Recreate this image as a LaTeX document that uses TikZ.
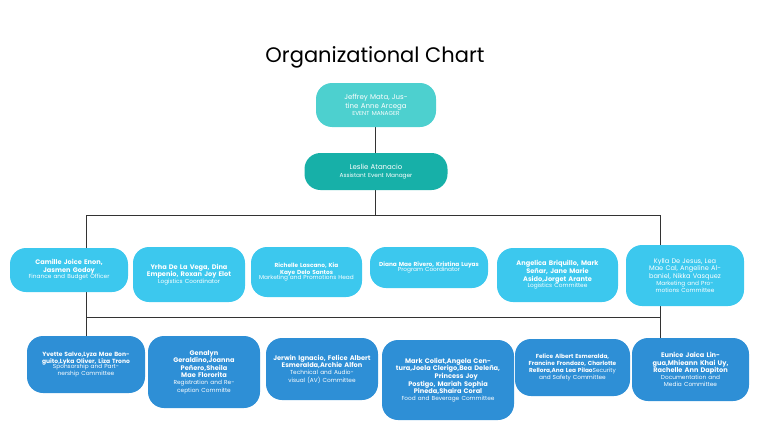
\documentclass[tikz,border=0pt]{standalone}
\usepackage{fontspec}
\setmainfont{Poppins}
\definecolor{topc}{HTML}{4DD0CF}
\definecolor{secc}{HTML}{17B0A8}
\definecolor{rowa}{HTML}{3CC8EE}
\definecolor{rowb}{HTML}{2E8FD6}
\tikzset{
 box/.style={rounded corners=16pt,text=white,align=center,inner sep=1pt,font=\fontsize{6.6}{7.6}\selectfont\bfseries},
 ra/.style={box,fill=rowa},
 rb/.style={box,fill=rowb},
 ln/.style={draw=black!80,line width=0.8pt}
}
\newcommand{\rl}[1]{\\[-1pt]{\mdseries\fontsize{5.8}{6.8}\selectfont #1}}
\newcommand{\bx}[7]{\node[#1,minimum width=#4pt,minimum height=#5pt,text width=#6pt] (#2) at (#3) {#7};}
\begin{document}
\begin{tikzpicture}[x=1pt,y=-1pt]
\useasboundingbox (0,0) rectangle (768,431);
\node[font=\fontsize{21}{24}\selectfont] (title) at (375,57) {Organizational Chart};
\coordinate (h1) at (375,215);
\coordinate (hl) at (86,215);
\coordinate (hr) at (660,215);
\coordinate (ml) at (86,317);
\coordinate (mr) at (660,317);
\coordinate (bl) at (86,336);
\coordinate (br) at (660,338);
\draw[ln] (375,105) -- (h1);
\draw[ln] (hl) -- (hr);
\draw[ln] (hl) -- (ml) -- (mr) -- (hr);
\draw[ln] (ml) -- (bl);
\draw[ln] (mr) -- (br);
\bx{box,fill=topc,font=\fontsize{7}{8.5}\selectfont}{top}{376,105}{120}{44}{105}{Jeffrey Mata, Justine Anne Arcega\rl{EVENT MANAGER}}
\bx{box,fill=secc,font=\fontsize{7}{8.5}\selectfont}{sec}{376,171.5}{143}{37}{120}{Leslie Atanacio\rl{Assistant Event Manager}}
\bx{ra}{a1}{69,270}{118}{44}{108}{Camille Joice Enon,\\Jasmen Godoy\rl{Finance and Budget Officer}}
\bx{ra}{a2}{189,274.5}{112}{55}{100}{Yrha De La Vega, Dina Empenio, Roxan Joy Elot\rl{Logistics Coordinator}}
\bx{ra,font=\fontsize{5.8}{6.8}\selectfont\bfseries}{a3}{306.5,272}{111}{50}{100}{Richelle Lascano, Kia Kaye Delo Santos\rl{Marketing and Promotions Head}}
\bx{ra,font=\fontsize{5.8}{6.8}\selectfont\bfseries}{a4}{429,267.5}{118}{41}{100}{Diana Mae Rivero, Kristina Luyas\rl{Program Coordinator}}
\bx{ra}{a5}{557.5,275}{121}{54}{100}{Angelica Briquillo, Mark Señar, Jane Marie Asido,Jorget Arante\rl{Logistics Committee}}
\bx{ra,font=\fontsize{6.6}{7.6}\selectfont}{a6}{685,275.5}{118}{61}{100}{Kylla De Jesus, Lea Mae Cal, Angeline Albaniel, Nikka Vasquez\rl{Marketing and Promotions Committee}}
\bx{rb,font=\fontsize{6}{6.8}\selectfont\bfseries}{b1}{86,364.5}{118}{57}{100}{Yvette Salvo,Lyza Mae Bonguito,Lyka Oliver, Liza Trono\rl{Sponsorship and Partnership Committee}}
\bx{rb}{b2}{204,372}{112}{72}{90}{Genalyn Geraldino,Joanna Peñero,Sheila Mae Flororita\rl{Registration and Reception Committe}}
\bx{rb}{b3}{322,369}{112}{62}{100}{Jerwin Ignacio, Felice Albert Esmeralda,Archie Alfon\rl{Technical and Audiovisual (AV) Committee}}
\bx{rb}{b4}{448,380}{132}{80}{110}{Mark Coliat,Angela Centura,Joela Clerigo,Bea Deleña,\\\hspace*{2.5em}Princess Joy Postigo, Mariah Sophia Pineda,Shaira Coral\rl{Food and Beverage Committee}}
\bx{rb,font=\fontsize{5.8}{6.8}\selectfont\bfseries}{b5}{572.5,367.5}{115}{57}{100}{Felice Albert Esmeralda, Francine Frondozo, Charlotte Rellora,Ana Lea Pilao{\mdseries Security and Safety Committee}}
\bx{rb}{b6}{690.5,369.5}{117}{63}{100}{Eunice Jaica Lingua,Mhieann Khai Uy, Rachelle Ann Dapiton\rl{Documentation and Media Committee}}
\end{tikzpicture}
\end{document}
